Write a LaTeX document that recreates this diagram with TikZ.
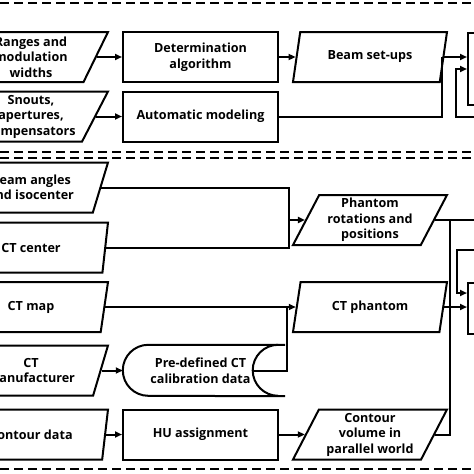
\documentclass[tikz,border=0pt]{standalone}
\usepackage{fontspec}
\setmainfont{Open Sans}
\usetikzlibrary{shapes.geometric,arrows.meta}
\begin{document}
\begin{tikzpicture}[
        x=1pt, y=1pt,
        font=\fontsize{12.6}{15.5}\selectfont\bfseries,
        io/.style={trapezium, trapezium left angle=59, trapezium right angle=121,
            trapezium stretches body, draw, line width=2pt, minimum width=154pt,
            minimum height=50pt, inner sep=0pt, align=center},
        proc/.style={rectangle, draw, line width=2pt, minimum width=155pt,
            minimum height=50pt, inner sep=0pt, align=center},
        arr/.style={line width=2pt, -{Triangle[length=7pt,width=6pt]}},
        wire/.style={line width=2pt},
        sep/.style={line width=2pt, dash pattern=on 9pt off 5pt}
    ]
    \useasboundingbox (0,0) rectangle (474,-474);
    \clip (0,0) rectangle (474,-474);
    \fill[white] (0,0) rectangle (474,-474);

    \draw[sep] (0,-3) -- (474,-3);
    \draw[sep] (0,-152) -- (474,-152);
    \draw[sep] (0,-157.5) -- (474,-157.5);
    \draw[sep] (0,-469) -- (474,-469);

    \node[io] (rng) at (31,-57) {Ranges and\\modulation\\widths};
    \node[io] (snt) at (31,-116.5) {Snouts,\\apertures,\\compensators};
    \node[proc] (det) at (200.5,-57) {Determination\\algorithm};
    \node[proc] (mod) at (200.5,-116.5) {Automatic modeling};
    \node[io] (beam) at (370,-57) {Beam set-ups};
    \node[proc, minimum width=120pt, minimum height=72pt, anchor=north west] (out1) at (467,-32) {};

    \node[io] (ang) at (31,-187.5) {Beam angles\\and isocenter};
    \node[io] (ctc) at (31,-247.5) {CT center};
    \node[io] (ctm) at (31,-307) {CT map};
    \node[io] (man) at (31,-370.5) {CT\\manufacturer};
    \node[io] (con) at (31,-434.5) {Contour data};
    \node[minimum width=155pt, minimum height=51pt, inner sep=0pt, align=center] (cal) at (200.5,-370.5) {Pre-defined CT\\calibration data};
    \node[proc] (hu) at (200.5,-434.5) {HU assignment};
    \node[io] (rot) at (370,-220) {Phantom\\rotations and\\positions};
    \node[io] (pha) at (370,-307) {CT phantom};
    \node[io] (vol) at (370,-434.5) {Contour\\volume in\\parallel world};
    \node[proc, minimum width=120pt, minimum height=51pt, anchor=north west] (out2) at (467,-282) {};

    \draw[wire] ([xshift=7pt]cal.north east) -- ([xshift=25.5pt]cal.north west)
        arc[start angle=90, end angle=270, radius=25.5pt] -- ([xshift=7pt]cal.south east);
    \draw[wire] (cal.north east) arc[start angle=90, end angle=270, radius=25.5pt];
    \coordinate (cal-in) at ([xshift=-25.5pt]cal.east);

    \coordinate (j1) at (442,-57);
    \coordinate (fb1) at (480,-116.5);
    \coordinate (j2) at (289,-220);
    \coordinate (x2) at (480,-220);
    \coordinate (fb2) at (480,-250);

    \draw[arr] (rng.right side) -- (det.west);
    \draw[arr] (snt.right side) -- (mod.west);
    \draw[arr] (det.east) -- (beam.left side);
    \draw[arr] (beam.right side) -- (beam.right side -| out1.west);
    \draw[wire] (mod.east) -| (j1);
    \draw[arr] (fb1) -- (456,-116.5) |- ([yshift=-37pt]out1.north west);

    \draw[wire] (ang.right side) -| (j2) |- (ctc.right side);
    \draw[arr] (j2) -- (rot.left side);
    \draw[wire] (rot.right side) -- (x2);
    \draw[wire] (vol.right side) -| (450,-220);
    \draw[arr] (ctm.right side) -- (pha.left side);
    \draw[wire] (cal-in) -| (287,-307);
    \draw[arr] (pha.right side) -- (pha.right side -| out2.west);
    \draw[arr] (fb2) -- (457,-250) |- ([yshift=-11pt]out2.north west);
    \draw[arr] (man.right side) -- (cal.west);
    \draw[arr] (con.right side) -- (hu.west);
    \draw[arr] (hu.east) -- (vol.left side);
\end{tikzpicture}
\end{document}
